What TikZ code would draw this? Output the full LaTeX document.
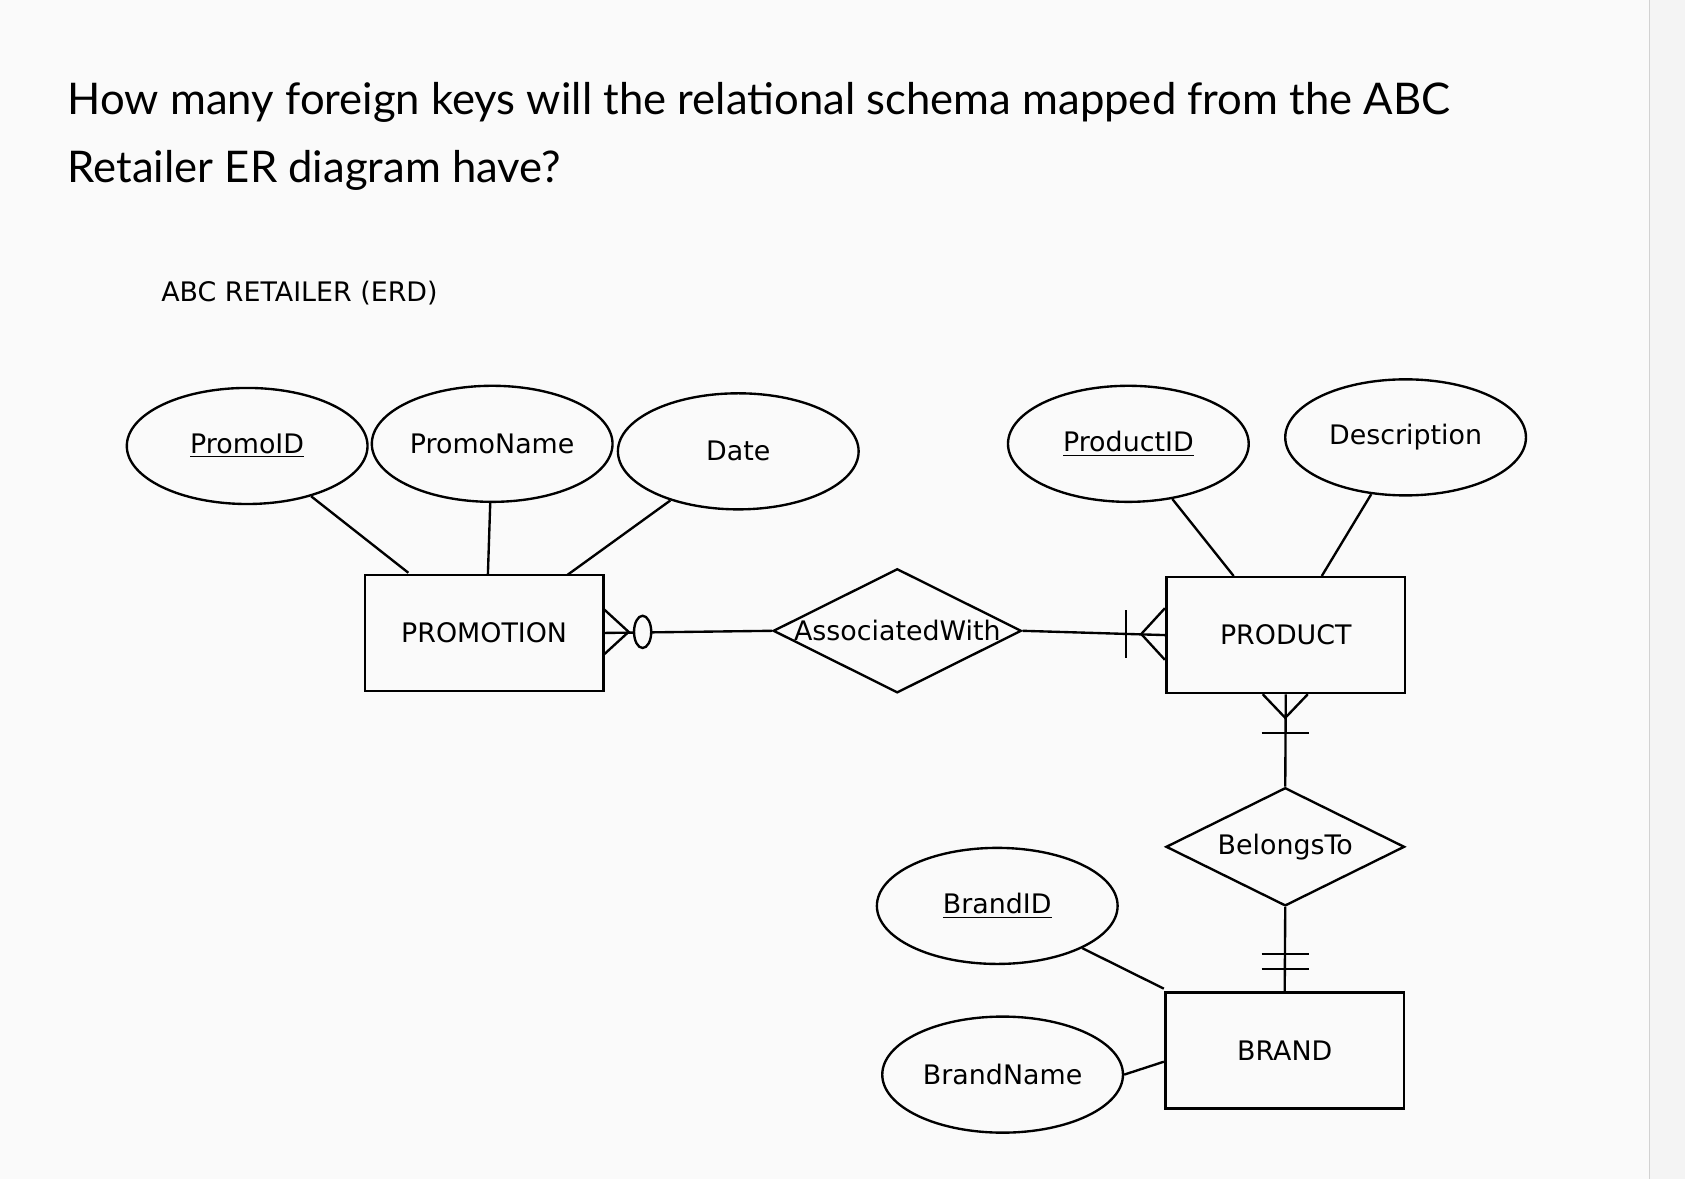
\documentclass[tikz,border=0pt]{standalone}
\usepackage{fontspec}
\setmainfont{Lato}
\newfontfamily\djsans{DejaVu Sans}
\usetikzlibrary{shapes.geometric}
\begin{document}
\begin{tikzpicture}[x=0.5pt,y=-0.5pt,
  attr/.style={ellipse,draw,line width=1.1pt,minimum width=112pt,minimum height=54pt,inner sep=0pt,font=\djsans\fontsize{12.5}{14}\selectfont},
  ent/.style={rectangle,draw,line width=1.1pt,minimum width=111pt,minimum height=54pt,inner sep=0pt,font=\djsans\fontsize{12.5}{14}\selectfont},
  rel/.style={diamond,draw,line width=1.1pt,aspect=2,minimum width=111pt,minimum height=55pt,inner sep=0pt,font=\djsans\fontsize{12.5}{14}\selectfont},
  ln/.style={line width=1.1pt}]
\useasboundingbox (0,0) rectangle (1568,1097);
\fill[gray!9] (0,0) rectangle (1568,1097);
\fill[gray!4] (0,0) rectangle (1535,1097);
\draw[gray!35] (1535,0) -- (1535,1097);
\node[anchor=base west,font=\fontsize{20.3}{24}\selectfont] (t1) at (56,107) {How many foreign keys will the relational schema mapped from the ABC};
\node[anchor=base west,font=\fontsize{20.3}{24}\selectfont] (t2) at (56,170) {Retailer ER diagram have?};
\node[anchor=base west,font=\djsans\fontsize{12.5}{14}\selectfont] (t3) at (143,281) {ABC RETAILER (ERD)};

\node[attr] (pid) at (230,415) {\underline{PromoID}};
\node[attr] (pname) at (458,413) {PromoName};
\node[attr] (date) at (687,420) {Date};
\node[attr] (prid) at (1050,413) {\underline{ProductID}};
\node[attr] (desc) at (1308,407) {Description};
\node[attr] (bid) at (928,843) {\underline{BrandID}};
\node[attr] (bname) at (933,1000) {BrandName};
\node[ent] (promo) at (450.5,589) {PROMOTION};
\node[ent] (prod) at (1196.5,591) {PRODUCT};
\node[ent] (brand) at (1195.5,977.5) {BRAND};
\node[rel] (assoc) at (835,587) {AssociatedWith};
\node[rel] (belong) at (1196,788) {BelongsTo};

\coordinate (a1) at (380,533); \coordinate (a2) at (454,535); \coordinate (a3) at (528,535);
\coordinate (a4) at (1148,536); \coordinate (a5) at (1230,536);
\coordinate (a6) at (1083,920); \coordinate (a7) at (1083,988);
\draw[ln] (pid) -- (a1); \draw[ln] (pname) -- (a2); \draw[ln] (date) -- (a3);
\draw[ln] (prid) -- (a4); \draw[ln] (desc) -- (a5);
\draw[ln] (bid) -- (a6); \draw[ln] (bname.east) -- (a7);

\draw[ln] (promo.east) -- (assoc.west);
\coordinate (c1) at (585,588);
\draw[ln] (561,566) -- (c1) -- (561,610);
\draw[ln,fill=gray!4] (598,588) ellipse (8 and 15);
\draw[ln] (assoc.east) -- (prod.west);
\draw[ln] (1084,566) -- (1062,590) -- (1084,614);
\draw[ln] (1048,568) -- (1048,612);
\draw[ln] (prod.south) -- (belong.north);
\draw[ln] (1175,646) -- (1196,668) -- (1217,646);
\draw[ln] (1174,682) -- (1218,682);
\draw[ln] (belong.south) -- (brand.north);
\draw[ln] (1174,888) -- (1218,888);
\draw[ln] (1174,902) -- (1218,902);
\end{tikzpicture}
\end{document}
